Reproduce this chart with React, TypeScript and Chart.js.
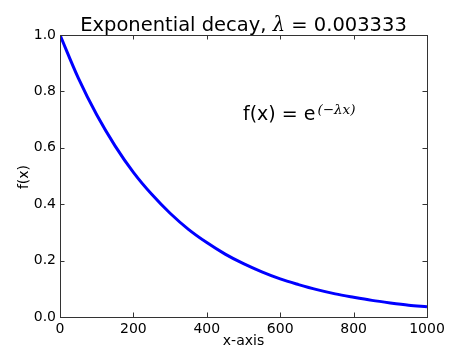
import React, { useEffect, useRef } from "react";
import { Chart, registerables } from "chart.js";

Chart.register(...registerables);

const xValues = [0, 50, 100, 150, 200, 250, 300, 350, 400, 450, 500, 550, 600, 650, 700, 750, 800, 850, 900, 950, 1000];
const yValues = [1.0, 0.847, 0.717, 0.607, 0.513, 0.435, 0.368, 0.311, 0.264, 0.223, 0.189, 0.16, 0.135, 0.115, 0.097, 0.082, 0.07, 0.059, 0.05, 0.042, 0.036];
const xTicks = [0, 200, 400, 600, 800, 1000];
const yTicks = [0.0, 0.2, 0.4, 0.6, 0.8, 1.0];
const titleText = "Exponential decay, ";
const lambdaText = "λ";
const titleRest = " = 0.003333";
const xLabel = "x-axis";
const yLabel = "f(x)";
const annotMain = "f(x) = e";
const annotSup = "(−λx)";

const SANS = "'DejaVu Sans', sans-serif";
const SERIF = "'DejaVu Serif', serif";

const decorPlugin = {
  id: "decor",
  afterDraw(chart: any) {
    const ctx = chart.ctx as CanvasRenderingContext2D;
    const { left, right, top, bottom } = chart.chartArea;
    const xs = chart.scales.x;
    const ys = chart.scales.y;
    ctx.save();
    ctx.strokeStyle = "#333";
    ctx.lineWidth = 1;
    ctx.strokeRect(Math.round(left) + 0.5, Math.round(top) + 0.5, Math.round(right - left), Math.round(bottom - top));
    const tl = 4.5;
    ctx.beginPath();
    xTicks.forEach((v) => {
      const px = Math.round(xs.getPixelForValue(v)) + 0.5;
      ctx.moveTo(px, bottom);
      ctx.lineTo(px, bottom - tl);
      ctx.moveTo(px, top);
      ctx.lineTo(px, top + tl);
    });
    yTicks.forEach((v) => {
      const py = Math.round(ys.getPixelForValue(v)) + 0.5;
      ctx.moveTo(left, py);
      ctx.lineTo(left + tl, py);
      ctx.moveTo(right, py);
      ctx.lineTo(right - tl, py);
    });
    ctx.stroke();

    ctx.fillStyle = "#000";
    const tFont = "19.5px " + SANS;
    const lFont = "italic 19.5px " + SERIF;
    ctx.font = tFont;
    const w1 = ctx.measureText(titleText).width;
    const w3 = ctx.measureText(titleRest).width;
    ctx.font = lFont;
    const w2 = ctx.measureText(lambdaText).width;
    const total = w1 + w2 + w3;
    const cx = (left + right) / 2;
    const x0 = cx - total / 2;
    ctx.textBaseline = "alphabetic";
    ctx.textAlign = "left";
    ctx.font = tFont;
    ctx.fillText(titleText, x0, 31);
    ctx.font = lFont;
    ctx.fillText(lambdaText, x0 + w1, 31);
    ctx.font = tFont;
    ctx.fillText(titleRest, x0 + w1 + w2, 31);

    ctx.font = "14px " + SANS;
    ctx.textAlign = "center";
    ctx.textBaseline = "middle";
    ctx.fillText(xLabel, cx, 341);
    ctx.save();
    ctx.translate(24, 177);
    ctx.rotate(-Math.PI / 2);
    ctx.fillText(yLabel, 0, 0);
    ctx.restore();

    ctx.textAlign = "left";
    ctx.textBaseline = "alphabetic";
    ctx.font = "19px " + SANS;
    ctx.fillText(annotMain, 243, 120);
    const mw = ctx.measureText(annotMain).width;
    ctx.font = "italic 13.5px " + SERIF;
    ctx.fillText(annotSup, 243 + mw + 2, 114);
    ctx.restore();
  },
};

export default function App() {
  const ref = useRef<HTMLCanvasElement | null>(null);
  useEffect(() => {
    document.body.style.margin = "0";
    const canvas = ref.current!;
    const chart = new Chart(canvas, {
      type: "line",
      data: {
        datasets: [
          {
            data: xValues.map((x, i) => ({ x, y: yValues[i] })),
            borderColor: "#0000ff",
            borderWidth: 3,
            pointRadius: 0,
            fill: false,
            cubicInterpolationMode: "monotone",
          },
        ],
      },
      options: {
        animation: false,
        responsive: false,
        maintainAspectRatio: false,
        layout: { padding: { left: 0, top: 35, right: 47, bottom: 0 } },
        plugins: { legend: { display: false }, tooltip: { enabled: false }, title: { display: false } },
        scales: {
          x: {
            type: "linear",
            min: 0,
            max: 1000,
            grid: { display: false, drawTicks: false },
            border: { display: false },
            afterFit: (s: any) => { s.height = 36; },
            afterBuildTicks: (s: any) => { s.ticks = xTicks.map((v) => ({ value: v })); },
            ticks: { color: "#000", font: { family: SANS, size: 14 }, padding: 4, maxRotation: 0, autoSkip: false, callback: (v: any) => String(v) },
          },
          y: {
            type: "linear",
            min: 0,
            max: 1,
            grid: { display: false, drawTicks: false },
            border: { display: false },
            afterFit: (s: any) => { s.width = 60; },
            afterBuildTicks: (s: any) => { s.ticks = yTicks.map((v) => ({ value: v })); },
            ticks: { color: "#000", font: { family: SANS, size: 14 }, padding: 4, autoSkip: false, callback: (v: any) => Number(v).toFixed(1) },
          },
        },
      },
      plugins: [decorPlugin],
    });
    return () => chart.destroy();
  }, []);
  return (
    <div style={{ width: 474, height: 353 }}>
      <canvas ref={ref} width={474} height={353} style={{ width: 474, height: 353 }} />
    </div>
  );
}
